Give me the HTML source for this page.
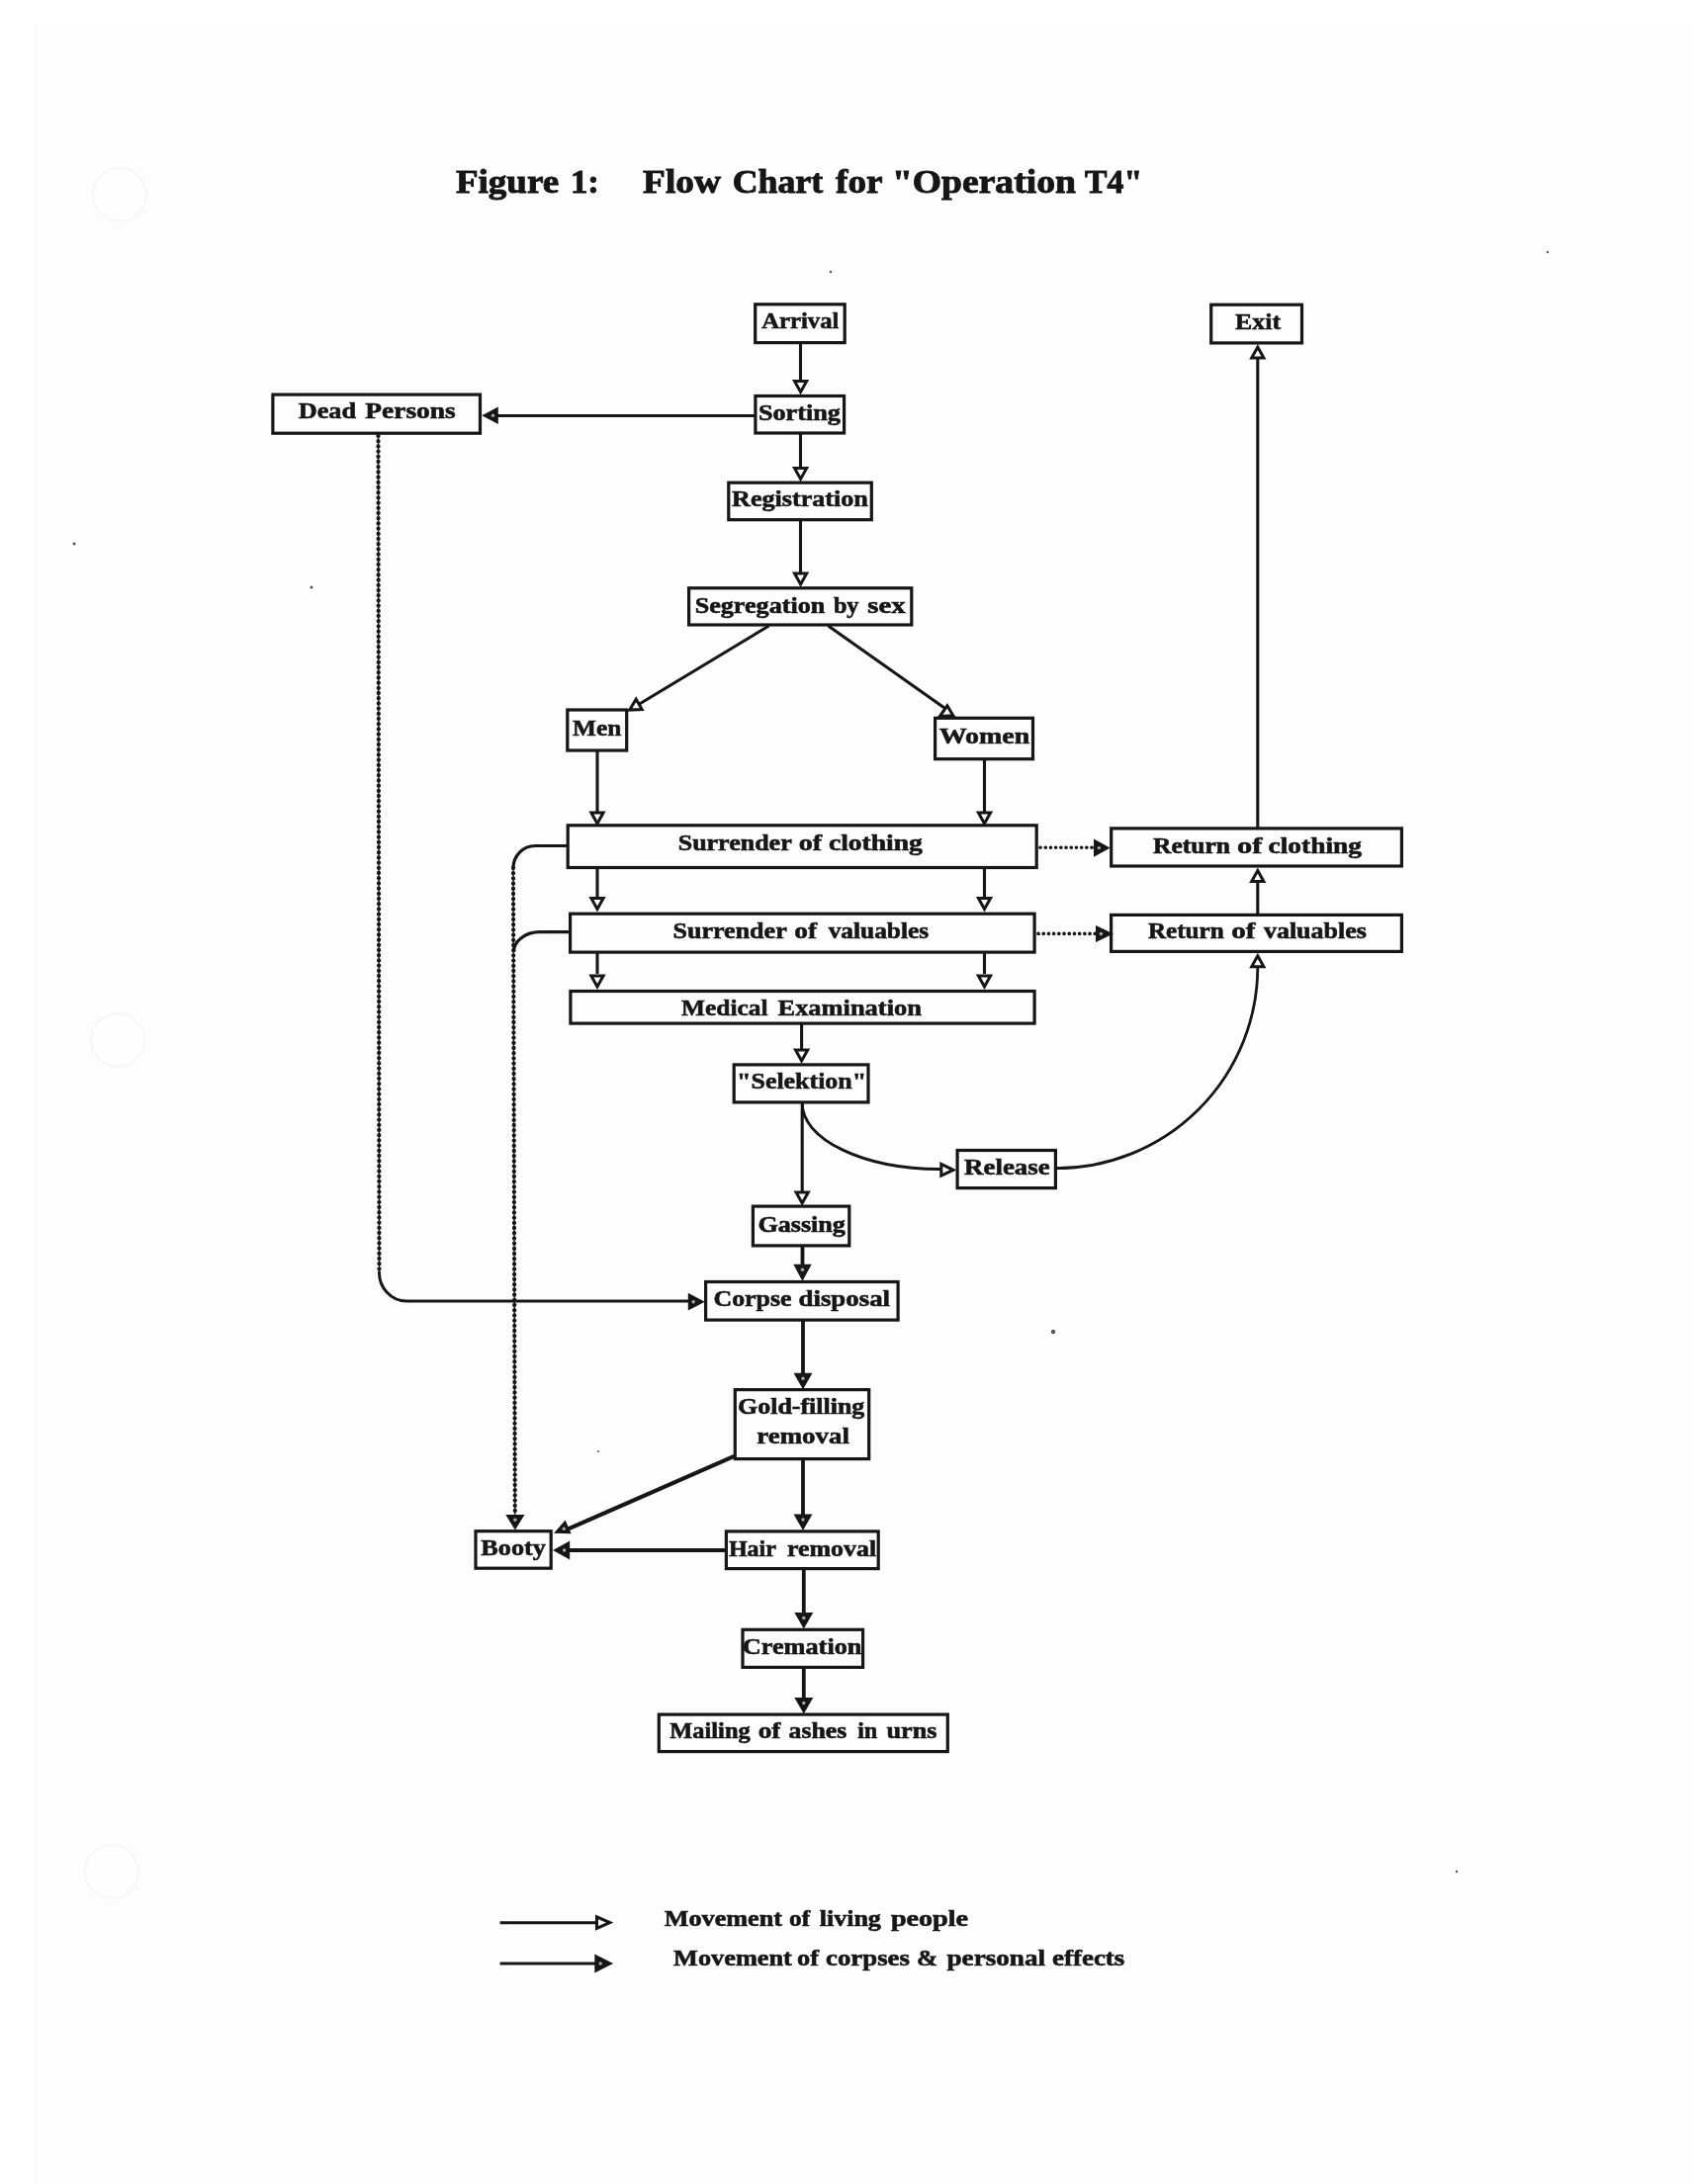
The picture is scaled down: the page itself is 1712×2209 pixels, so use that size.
<!DOCTYPE html>
<html><head><meta charset="utf-8"><title>Figure 1: Flow Chart for "Operation T4"</title>
<style>
html,body{margin:0;padding:0;background:#fdfdfd;}
svg{display:block;}
text{font-family:"Liberation Serif",serif;font-weight:bold;fill:#161616;stroke:#161616;stroke-width:0.6px;}
text.t{stroke-width:0.9px;}
.dot2{fill:none;stroke:#161616;stroke-width:3.6;stroke-linecap:round;stroke-dasharray:0.1 5.1;}
.dot{fill:none;stroke:#161616;stroke-width:4.3;stroke-linecap:round;stroke-dasharray:0.1 5.1;}
</style></head><body>
<svg width="1712" height="2209" viewBox="0 0 1712 2209">
<rect x="0" y="0" width="1712" height="2209" fill="#ffffff"/>
<rect x="34" y="22" width="1678" height="2187" fill="#fdfdfd"/>
<g style="filter:blur(0.45px)">
<line x1="809.5" y1="347" x2="809.5" y2="385" stroke="#161616" stroke-width="3.1"/>
<line x1="809.5" y1="438" x2="809.5" y2="472" stroke="#161616" stroke-width="3.1"/>
<line x1="809.5" y1="526" x2="809.5" y2="580" stroke="#161616" stroke-width="3.1"/>
<line x1="777.5" y1="633" x2="640" y2="716" stroke="#161616" stroke-width="3.1"/>
<line x1="837.5" y1="633" x2="955" y2="716" stroke="#161616" stroke-width="3.1"/>
<line x1="604" y1="759" x2="604" y2="822" stroke="#161616" stroke-width="3.1"/>
<line x1="995.5" y1="768" x2="995.5" y2="822" stroke="#161616" stroke-width="3.1"/>
<line x1="604" y1="878" x2="604" y2="907" stroke="#161616" stroke-width="3.1"/>
<line x1="995.5" y1="878" x2="995.5" y2="907" stroke="#161616" stroke-width="3.1"/>
<line x1="604" y1="963" x2="604" y2="985" stroke="#161616" stroke-width="3.1"/>
<line x1="995.5" y1="963" x2="995.5" y2="985" stroke="#161616" stroke-width="3.1"/>
<line x1="810.6" y1="1036" x2="810.6" y2="1062" stroke="#161616" stroke-width="3.1"/>
<line x1="811.2" y1="1116" x2="811.2" y2="1206" stroke="#161616" stroke-width="3.1"/>
<line x1="1271.8" y1="362" x2="1271.8" y2="837" stroke="#161616" stroke-width="3.1"/>
<line x1="1271.8" y1="890" x2="1271.8" y2="925" stroke="#161616" stroke-width="3.1"/>
<line x1="763" y1="420.5" x2="503" y2="420.5" stroke="#161616" stroke-width="3.1"/>
<path d="M811.2,1116 A139,66.5 0 0 0 951,1182.5" fill="none" stroke="#161616" stroke-width="2.9"/>
<path d="M1068,1181.7 A203.8,203.7 0 0 0 1271.8,978" fill="none" stroke="#161616" stroke-width="2.8"/>
<path d="M382.5,441 L383.5,1288" fill="none" stroke="#161616" stroke-width="1.3"/>
<path d="M382.5,441 L383.5,1288" class="dot"/>
<path d="M383.5,1286 A28,29 0 0 0 411.5,1316 L700,1316" fill="none" stroke="#161616" stroke-width="3.0"/>
<path d="M573,855.5 L541,855.5 A22,22.5 0 0 0 519,878" fill="none" stroke="#161616" stroke-width="3.2"/>
<path d="M519,878 L520.8,1533" fill="none" stroke="#161616" stroke-width="1.3"/>
<path d="M519,878 L520.8,1533" class="dot"/>
<path d="M575,942.7 L546,942.7 A26.5,20 0 0 0 519.5,963" fill="none" stroke="#161616" stroke-width="3.2"/>
<line x1="1052" y1="857.3" x2="1107" y2="857.3" class="dot2"/>
<line x1="1050" y1="944.4" x2="1108" y2="944.4" class="dot2"/>
<line x1="811.5" y1="1261" x2="811.5" y2="1282" stroke="#161616" stroke-width="3.8"/>
<line x1="812" y1="1336" x2="812" y2="1392" stroke="#161616" stroke-width="3.8"/>
<line x1="812" y1="1477" x2="812" y2="1535" stroke="#161616" stroke-width="3.8"/>
<line x1="812.8" y1="1588" x2="812.8" y2="1634" stroke="#161616" stroke-width="3.8"/>
<line x1="812.8" y1="1687" x2="812.8" y2="1720" stroke="#161616" stroke-width="3.8"/>
<line x1="733" y1="1568" x2="574" y2="1568" stroke="#161616" stroke-width="3.8"/>
<line x1="742.4" y1="1472.8" x2="573" y2="1547.2" stroke="#161616" stroke-width="4.2"/>
<line x1="505.6" y1="1944.7" x2="603" y2="1944.7" stroke="#161616" stroke-width="3.1"/>
<line x1="505.6" y1="1986" x2="603" y2="1986" stroke="#161616" stroke-width="3.1"/>
<rect x="763.7" y="307.8" width="90.5" height="38.8" fill="#fdfdfd" stroke="#161616" stroke-width="3.2"/>
<rect x="1224.7" y="308.2" width="91.8" height="38.7" fill="#fdfdfd" stroke="#161616" stroke-width="3.2"/>
<rect x="275.9" y="399.1" width="209.6" height="39.1" fill="#fdfdfd" stroke="#161616" stroke-width="3.2"/>
<rect x="763.9" y="400.5" width="89.7" height="37.5" fill="#fdfdfd" stroke="#161616" stroke-width="3.2"/>
<rect x="736.8" y="488.2" width="144.5" height="37.5" fill="#fdfdfd" stroke="#161616" stroke-width="3.2"/>
<rect x="696.6" y="594.8" width="225.2" height="37.2" fill="#fdfdfd" stroke="#161616" stroke-width="3.2"/>
<rect x="573.8" y="718.0" width="59.9" height="41.0" fill="#fdfdfd" stroke="#161616" stroke-width="3.2"/>
<rect x="945.6" y="726.3" width="98.9" height="41.4" fill="#fdfdfd" stroke="#161616" stroke-width="3.2"/>
<rect x="574.2" y="834.8" width="474.0" height="42.7" fill="#fdfdfd" stroke="#161616" stroke-width="3.2"/>
<rect x="576.6" y="924.2" width="469.5" height="38.9" fill="#fdfdfd" stroke="#161616" stroke-width="3.2"/>
<rect x="576.9" y="1002.5" width="469.2" height="32.6" fill="#fdfdfd" stroke="#161616" stroke-width="3.2"/>
<rect x="1123.7" y="837.9" width="293.7" height="38.1" fill="#fdfdfd" stroke="#161616" stroke-width="3.2"/>
<rect x="1123.6" y="925.4" width="293.8" height="37.0" fill="#fdfdfd" stroke="#161616" stroke-width="3.2"/>
<rect x="742.2" y="1076.9" width="135.8" height="38.0" fill="#fdfdfd" stroke="#161616" stroke-width="3.2"/>
<rect x="968.1" y="1163.5" width="99.3" height="38.1" fill="#fdfdfd" stroke="#161616" stroke-width="3.2"/>
<rect x="761.4" y="1220.1" width="97.4" height="39.8" fill="#fdfdfd" stroke="#161616" stroke-width="3.2"/>
<rect x="713.6" y="1296.5" width="194.5" height="38.6" fill="#fdfdfd" stroke="#161616" stroke-width="3.2"/>
<rect x="743.3" y="1405.6" width="135.4" height="70.0" fill="#fdfdfd" stroke="#161616" stroke-width="3.2"/>
<rect x="734.4" y="1548.9" width="153.8" height="37.7" fill="#fdfdfd" stroke="#161616" stroke-width="3.2"/>
<rect x="481.0" y="1548.7" width="76.2" height="37.5" fill="#fdfdfd" stroke="#161616" stroke-width="3.2"/>
<rect x="751.0" y="1648.3" width="121.6" height="38.1" fill="#fdfdfd" stroke="#161616" stroke-width="3.2"/>
<rect x="666.3" y="1734.1" width="292.0" height="37.5" fill="#fdfdfd" stroke="#161616" stroke-width="3.2"/>
<polygon points="809.6,396.4 803.5,385.5 815.7,385.5" fill="#fdfdfd" stroke="#161616" stroke-width="3.0" stroke-linejoin="miter"/>
<polygon points="809.6,484.4 803.5,473.5 815.7,473.5" fill="#fdfdfd" stroke="#161616" stroke-width="3.0" stroke-linejoin="miter"/>
<polygon points="809.6,590.9 803.5,580.0 815.7,580.0" fill="#fdfdfd" stroke="#161616" stroke-width="3.0" stroke-linejoin="miter"/>
<polygon points="636.7,718.1 643.2,707.3 649.2,717.6" fill="#fdfdfd" stroke="#161616" stroke-width="3.0" stroke-linejoin="miter"/>
<polygon points="963.8,723.7 957.9,713.8 950.3,724.6" fill="#fdfdfd" stroke="#161616" stroke-width="3.0" stroke-linejoin="miter"/>
<polygon points="604.0,832.9 597.9,822.0 610.1,822.0" fill="#fdfdfd" stroke="#161616" stroke-width="3.0" stroke-linejoin="miter"/>
<polygon points="995.5,832.9 989.4,822.0 1001.6,822.0" fill="#fdfdfd" stroke="#161616" stroke-width="3.0" stroke-linejoin="miter"/>
<polygon points="604.0,919.4 597.9,908.5 610.1,908.5" fill="#fdfdfd" stroke="#161616" stroke-width="3.0" stroke-linejoin="miter"/>
<polygon points="995.5,919.4 989.4,908.5 1001.6,908.5" fill="#fdfdfd" stroke="#161616" stroke-width="3.0" stroke-linejoin="miter"/>
<polygon points="604.0,997.9 597.9,987.0 610.1,987.0" fill="#fdfdfd" stroke="#161616" stroke-width="3.0" stroke-linejoin="miter"/>
<polygon points="995.5,997.9 989.4,987.0 1001.6,987.0" fill="#fdfdfd" stroke="#161616" stroke-width="3.0" stroke-linejoin="miter"/>
<polygon points="810.6,1072.9 804.5,1062.0 816.7,1062.0" fill="#fdfdfd" stroke="#161616" stroke-width="3.0" stroke-linejoin="miter"/>
<polygon points="811.2,1216.9 805.1,1206.0 817.3,1206.0" fill="#fdfdfd" stroke="#161616" stroke-width="3.0" stroke-linejoin="miter"/>
<polygon points="1271.8,351.1 1277.9,362.0 1265.7,362.0" fill="#fdfdfd" stroke="#161616" stroke-width="3.0" stroke-linejoin="miter"/>
<polygon points="1271.8,880.6 1277.9,891.5 1265.7,891.5" fill="#fdfdfd" stroke="#161616" stroke-width="3.0" stroke-linejoin="miter"/>
<polygon points="1271.8,966.8 1277.9,977.7 1265.7,977.7" fill="#fdfdfd" stroke="#161616" stroke-width="3.0" stroke-linejoin="miter"/>
<polygon points="963.9,1183.3 951.8,1189.2 951.8,1177.4" fill="#fdfdfd" stroke="#161616" stroke-width="3.0" stroke-linejoin="miter"/>
<polygon points="490.4,420.3 502.3,414.0 502.3,426.6" fill="#161616" stroke="#161616" stroke-width="3.0" stroke-linejoin="miter"/>
<circle cx="498.5" cy="420.3" r="1.7" fill="#aaa"/>
<polygon points="1119.4,857.6 1107.5,864.1 1107.5,851.1" fill="#161616" stroke="#161616" stroke-width="3.0" stroke-linejoin="miter"/>
<circle cx="1111.3" cy="857.6" r="1.7" fill="#aaa"/>
<polygon points="1122.5,944.5 1109.5,950.6 1109.5,938.4" fill="#161616" stroke="#161616" stroke-width="3.0" stroke-linejoin="miter"/>
<circle cx="1113.4" cy="944.5" r="1.7" fill="#aaa"/>
<polygon points="811.5,1292.7 804.8,1280.3 818.2,1280.3" fill="#161616" stroke="#161616" stroke-width="3.0" stroke-linejoin="miter"/>
<circle cx="811.5" cy="1284.3" r="1.7" fill="#aaa"/>
<polygon points="709.6,1316.7 697.3,1323.1 697.3,1310.3" fill="#161616" stroke="#161616" stroke-width="3.0" stroke-linejoin="miter"/>
<circle cx="701.2" cy="1316.7" r="1.7" fill="#aaa"/>
<polygon points="812.0,1402.3 805.1,1390.3 818.9,1390.3" fill="#161616" stroke="#161616" stroke-width="3.0" stroke-linejoin="miter"/>
<circle cx="812.0" cy="1394.3" r="1.7" fill="#aaa"/>
<polygon points="812.0,1545.0 805.1,1533.0 818.9,1533.0" fill="#161616" stroke="#161616" stroke-width="3.0" stroke-linejoin="miter"/>
<circle cx="812.0" cy="1537.0" r="1.7" fill="#aaa"/>
<polygon points="812.8,1644.5 805.9,1632.5 819.7,1632.5" fill="#161616" stroke="#161616" stroke-width="3.0" stroke-linejoin="miter"/>
<circle cx="812.8" cy="1636.5" r="1.7" fill="#aaa"/>
<polygon points="812.8,1730.5 805.9,1718.5 819.7,1718.5" fill="#161616" stroke="#161616" stroke-width="3.0" stroke-linejoin="miter"/>
<circle cx="812.8" cy="1722.5" r="1.7" fill="#aaa"/>
<polygon points="520.9,1544.6 514.0,1533.5 527.8,1533.5" fill="#161616" stroke="#161616" stroke-width="3.0" stroke-linejoin="miter"/>
<circle cx="520.9" cy="1537.3" r="1.7" fill="#aaa"/>
<polygon points="562.1,1568.0 574.7,1561.0 574.7,1575.0" fill="#161616" stroke="#161616" stroke-width="3.0" stroke-linejoin="miter"/>
<circle cx="570.6" cy="1568.0" r="1.7" fill="#aaa"/>
<polygon points="563.2,1549.4 571.2,1540.3 575.3,1549.7" fill="#161616" stroke="#161616" stroke-width="3.0" stroke-linejoin="miter"/>
<circle cx="570.3" cy="1546.3" r="1.7" fill="#aaa"/>
<polygon points="616.6,1944.6 603.5,1950.4 603.5,1938.8" fill="#fdfdfd" stroke="#161616" stroke-width="3.0" stroke-linejoin="miter"/>
<polygon points="616.9,1986.0 602.8,1993.1 602.8,1978.9" fill="#161616" stroke="#161616" stroke-width="3.0" stroke-linejoin="miter"/>
<circle cx="607.2" cy="1986.0" r="1.7" fill="#aaa"/>
<text class="t" x="460.9" y="195.2" font-size="33.5" textLength="104.2" lengthAdjust="spacingAndGlyphs">Figure</text>
<text class="t" x="576.9" y="195.2" font-size="33.5" textLength="29.0" lengthAdjust="spacingAndGlyphs">1:</text>
<text class="t" x="650.1" y="195.2" font-size="33.5" textLength="78.8" lengthAdjust="spacingAndGlyphs">Flow</text>
<text class="t" x="740.7" y="195.2" font-size="33.5" textLength="91.4" lengthAdjust="spacingAndGlyphs">Chart</text>
<text class="t" x="845.1" y="195.2" font-size="33.5" textLength="47.4" lengthAdjust="spacingAndGlyphs">for</text>
<text class="t" x="901.9" y="195.2" font-size="33.5" textLength="186.0" lengthAdjust="spacingAndGlyphs">"Operation</text>
<text class="t" x="1097.1" y="195.2" font-size="33.5" textLength="58.0" lengthAdjust="spacingAndGlyphs">T4"</text>
<text x="770.3" y="332.4" font-size="23.5" textLength="78.0" lengthAdjust="spacingAndGlyphs">Arrival</text>
<text x="1249.1" y="333.0" font-size="23.5" textLength="46.0" lengthAdjust="spacingAndGlyphs">Exit</text>
<text x="301.7" y="423.4" font-size="23.5" textLength="58.4" lengthAdjust="spacingAndGlyphs">Dead</text>
<text x="369.3" y="423.4" font-size="23.5" textLength="91.4" lengthAdjust="spacingAndGlyphs">Persons</text>
<text x="766.9" y="425.0" font-size="23.5" textLength="83.0" lengthAdjust="spacingAndGlyphs">Sorting</text>
<text x="740.1" y="512.3" font-size="23.5" textLength="137.8" lengthAdjust="spacingAndGlyphs">Registration</text>
<text x="702.7" y="619.8" font-size="23.5" textLength="131.6" lengthAdjust="spacingAndGlyphs">Segregation</text>
<text x="842.9" y="619.8" font-size="23.5" textLength="25.6" lengthAdjust="spacingAndGlyphs">by</text>
<text x="877.3" y="619.8" font-size="23.5" textLength="38.4" lengthAdjust="spacingAndGlyphs">sex</text>
<text x="579.1" y="744.0" font-size="23.5" textLength="49.2" lengthAdjust="spacingAndGlyphs">Men</text>
<text x="949.7" y="751.5" font-size="23.5" textLength="91.6" lengthAdjust="spacingAndGlyphs">Women</text>
<text x="685.7" y="860.3" font-size="23.5" textLength="115.0" lengthAdjust="spacingAndGlyphs">Surrender</text>
<text x="807.7" y="860.3" font-size="23.5" textLength="23.4" lengthAdjust="spacingAndGlyphs">of</text>
<text x="837.9" y="860.3" font-size="23.5" textLength="95.0" lengthAdjust="spacingAndGlyphs">clothing</text>
<text x="680.5" y="948.9" font-size="23.5" textLength="115.2" lengthAdjust="spacingAndGlyphs">Surrender</text>
<text x="803.3" y="948.9" font-size="23.5" textLength="22.8" lengthAdjust="spacingAndGlyphs">of</text>
<text x="837.7" y="948.9" font-size="23.5" textLength="101.4" lengthAdjust="spacingAndGlyphs">valuables</text>
<text x="689.1" y="1027.4" font-size="23.5" textLength="87.4" lengthAdjust="spacingAndGlyphs">Medical</text>
<text x="786.5" y="1027.4" font-size="23.5" textLength="145.4" lengthAdjust="spacingAndGlyphs">Examination</text>
<text x="1166.1" y="862.6" font-size="23.5" textLength="77.8" lengthAdjust="spacingAndGlyphs">Return</text>
<text x="1251.1" y="862.6" font-size="23.5" textLength="25.4" lengthAdjust="spacingAndGlyphs">of</text>
<text x="1282.5" y="862.6" font-size="23.5" textLength="94.6" lengthAdjust="spacingAndGlyphs">clothing</text>
<text x="1160.9" y="949.2" font-size="23.5" textLength="76.8" lengthAdjust="spacingAndGlyphs">Return</text>
<text x="1245.3" y="949.2" font-size="23.5" textLength="24.2" lengthAdjust="spacingAndGlyphs">of</text>
<text x="1277.9" y="949.2" font-size="23.5" textLength="104.0" lengthAdjust="spacingAndGlyphs">valuables</text>
<text x="745.1" y="1101.3" font-size="23.5" textLength="131.0" lengthAdjust="spacingAndGlyphs">"Selektion"</text>
<text x="975.1" y="1188.0" font-size="23.5" textLength="86.6" lengthAdjust="spacingAndGlyphs">Release</text>
<text x="766.5" y="1245.6" font-size="23.5" textLength="88.4" lengthAdjust="spacingAndGlyphs">Gassing</text>
<text x="721.5" y="1321.2" font-size="23.5" textLength="79.0" lengthAdjust="spacingAndGlyphs">Corpse</text>
<text x="807.5" y="1321.2" font-size="23.5" textLength="92.6" lengthAdjust="spacingAndGlyphs">disposal</text>
<text x="746.1" y="1430.0" font-size="23.5" textLength="128.2" lengthAdjust="spacingAndGlyphs">Gold-filling</text>
<text x="765.3" y="1460.0" font-size="23.5" textLength="93.6" lengthAdjust="spacingAndGlyphs">removal</text>
<text x="736.9" y="1573.7" font-size="23.5" textLength="48.0" lengthAdjust="spacingAndGlyphs">Hair</text>
<text x="795.9" y="1573.7" font-size="23.5" textLength="90.2" lengthAdjust="spacingAndGlyphs">removal</text>
<text x="486.3" y="1573.2" font-size="23.5" textLength="65.6" lengthAdjust="spacingAndGlyphs">Booty</text>
<text x="750.7" y="1673.0" font-size="23.5" textLength="120.8" lengthAdjust="spacingAndGlyphs">Cremation</text>
<text x="677.3" y="1758.2" font-size="23.5" textLength="81.4" lengthAdjust="spacingAndGlyphs">Mailing</text>
<text x="766.7" y="1758.2" font-size="23.5" textLength="22.8" lengthAdjust="spacingAndGlyphs">of</text>
<text x="797.5" y="1758.2" font-size="23.5" textLength="58.8" lengthAdjust="spacingAndGlyphs">ashes</text>
<text x="867.3" y="1758.2" font-size="23.5" textLength="19.8" lengthAdjust="spacingAndGlyphs">in</text>
<text x="896.5" y="1758.2" font-size="23.5" textLength="51.0" lengthAdjust="spacingAndGlyphs">urns</text>
<text x="671.7" y="1948.0" font-size="23" textLength="119.4" lengthAdjust="spacingAndGlyphs">Movement</text>
<text x="798.1" y="1948.0" font-size="23" textLength="21.0" lengthAdjust="spacingAndGlyphs">of</text>
<text x="828.7" y="1948.0" font-size="23" textLength="62.2" lengthAdjust="spacingAndGlyphs">living</text>
<text x="900.9" y="1948.0" font-size="23" textLength="78.2" lengthAdjust="spacingAndGlyphs">people</text>
<text x="681.1" y="1988.4" font-size="23" textLength="119.8" lengthAdjust="spacingAndGlyphs">Movement</text>
<text x="806.1" y="1988.4" font-size="23" textLength="22.0" lengthAdjust="spacingAndGlyphs">of</text>
<text x="835.1" y="1988.4" font-size="23" textLength="84.8" lengthAdjust="spacingAndGlyphs">corpses</text>
<text x="927.1" y="1988.4" font-size="23" textLength="21.2" lengthAdjust="spacingAndGlyphs">&amp;</text>
<text x="957.5" y="1988.4" font-size="23" textLength="99.6" lengthAdjust="spacingAndGlyphs">personal</text>
<text x="1064.1" y="1988.4" font-size="23" textLength="73.2" lengthAdjust="spacingAndGlyphs">effects</text>
<circle cx="121" cy="197" r="27" fill="#fefefe" stroke="#f6f6f6" stroke-width="2"/>
<circle cx="119" cy="1052" r="27" fill="#fefefe" stroke="#f6f6f6" stroke-width="2"/>
<circle cx="113" cy="1893" r="27" fill="#fefefe" stroke="#f6f6f6" stroke-width="2"/>
<circle cx="1065" cy="1347" r="2.2" fill="#555"/>
<circle cx="840" cy="275" r="1.2" fill="#555"/>
<circle cx="75" cy="550" r="1.5" fill="#555"/>
<circle cx="315" cy="594" r="1.5" fill="#555"/>
<circle cx="1565" cy="255" r="1.2" fill="#555"/>
<circle cx="605" cy="1468" r="1" fill="#555"/>
<circle cx="1473" cy="1893" r="1.2" fill="#555"/>
</g>
</svg>
</body></html>
